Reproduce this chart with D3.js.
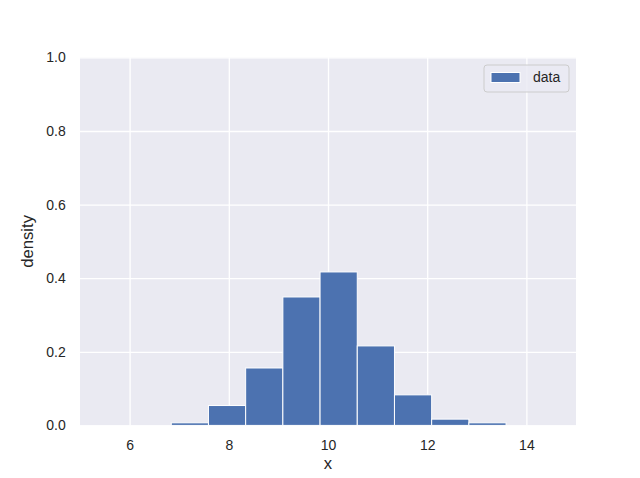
<!DOCTYPE html>
<html>
<head>
<meta charset="utf-8">
<script src="https://cdn.jsdelivr.net/npm/d3@7"></script>
<style>
  body { margin: 0; background: #fff; }
  .chart text { font-family: Arial, "Liberation Sans", sans-serif; fill: #262626; }
</style>
</head>
<body>
<div class="chart"></div>
<script>
// histogram bin edges and density heights
const binEdges = [6.84, 7.59, 8.34, 9.09, 9.84, 10.59, 11.34, 12.09, 12.84, 13.59];
const density = [0.007, 0.054, 0.156, 0.349, 0.417, 0.216, 0.083, 0.017, 0.007];
const xTicks = [6, 8, 10, 12, 14];
const yTicks = [0, 0.2, 0.4, 0.6, 0.8, 1.0];
const seriesName = 'data';

const bins = density.map((d, i) => ({ x0: binEdges[i], x1: binEdges[i + 1], value: d }));

const margin = { top: 57.4, right: 64, bottom: 52.6, left: 80 };
const totalW = 640;
const totalH = 478;
const width = totalW - margin.left - margin.right;
const height = totalH - margin.top - margin.bottom;

const x = d3.scaleLinear().domain([5, 15]).range([0, width]);
const y = d3.scaleLinear().domain([0, 1]).range([height, 0]);

const svg = d3
  .select('.chart')
  .append('svg')
  .attr('width', totalW)
  .attr('height', totalH);

const g = svg.append('g').attr('transform', `translate(${margin.left}, ${margin.top})`);

g
  .append('rect')
  .attr('width', width)
  .attr('height', height)
  .attr('fill', '#EAEAF2');

// axes double as the white grid
const xAxis = g
  .append('g')
  .attr('transform', `translate(0, ${height})`)
  .call(d3.axisBottom(x).tickValues(xTicks).tickSize(-height).tickPadding(14.6).tickFormat(d3.format('d')));

const yAxis = g
  .append('g')
  .call(d3.axisLeft(y).tickValues(yTicks).tickSize(-width).tickPadding(14.3).tickFormat(d3.format('.1f')));

[xAxis, yAxis].forEach(ax => {
  ax.select('.domain').remove();
  ax.selectAll('line').attr('stroke', '#fff').attr('stroke-width', 1.3);
  ax.selectAll('text').attr('font-size', 14).style('fill', '#262626');
});

g
  .selectAll('.bar')
  .data(bins)
  .enter()
  .append('rect')
  .attr('class', 'bar')
  .attr('x', d => x(d.x0))
  .attr('y', d => y(d.value))
  .attr('width', d => x(d.x1) - x(d.x0))
  .attr('height', d => y(0) - y(d.value))
  .attr('fill', '#4C72B0')
  .attr('stroke', '#fff')
  .attr('stroke-width', 1);

// axis labels
g
  .append('text')
  .attr('x', width / 2)
  .attr('y', 412 - margin.top + 57)
  .attr('text-anchor', 'middle')
  .attr('font-size', 16.7)
  .text('x');

g
  .append('text')
  .attr('transform', `translate(${33 - margin.left}, ${height / 2}) rotate(-90)`)
  .attr('text-anchor', 'middle')
  .attr('font-size', 16.7)
  .text('density');

// legend
const legend = svg.append('g').attr('transform', 'translate(484, 65)');
legend
  .append('rect')
  .attr('width', 85)
  .attr('height', 27)
  .attr('rx', 3)
  .attr('fill', 'rgba(234,234,242,0.8)')
  .attr('stroke', '#cccccc')
  .attr('stroke-width', 1);
legend
  .append('rect')
  .attr('x', 7)
  .attr('y', 7.5)
  .attr('width', 29)
  .attr('height', 10)
  .attr('fill', '#4C72B0')
  .attr('stroke', '#fff')
  .attr('stroke-width', 1);
legend
  .append('text')
  .attr('x', 49)
  .attr('y', 17)
  .attr('font-size', 14)
  .text(seriesName);
</script>
</body>
</html>
